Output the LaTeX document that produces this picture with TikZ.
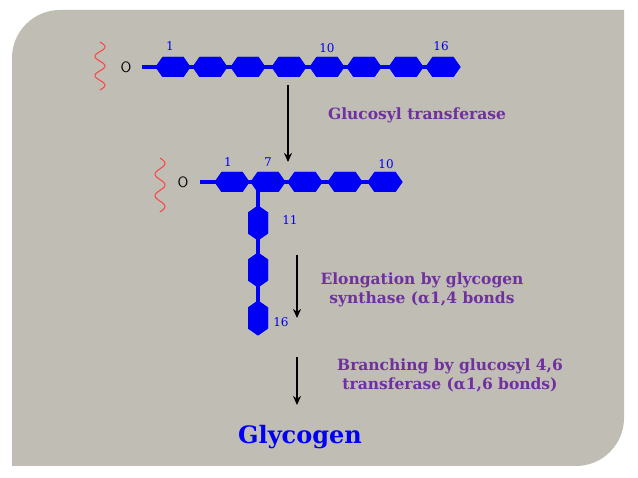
\documentclass[tikz,border=0pt]{standalone}
\usepackage{fontspec}
\setmainfont{DejaVu Serif}
\usetikzlibrary{shapes.symbols,arrows.meta}
\definecolor{bg}{RGB}{191,189,180}
\definecolor{pur}{RGB}{112,48,160}
\definecolor{bl}{RGB}{0,0,245}
\begin{document}
\begin{tikzpicture}[x=1pt,y=-1pt,
 hexh/.style={signal,signal to=east and west,fill=bl,draw=none,minimum width=35pt,minimum height=20pt,inner sep=0pt,signal pointer angle=110},
 hexv/.style={hexh,rotate=90},
 bond/.style={bl,line width=3.5pt},
 num/.style={text=bl,font=\fontsize{12}{12}\selectfont},
 lab/.style={text=pur,font=\bfseries\fontsize{15.5}{19}\selectfont,align=center},
 arr/.style={-{Stealth[length=9pt,width=8pt]},line width=2pt,black},
 squig/.style={red!75!white,line width=1pt}]
\useasboundingbox (0,0) rectangle (638,478);
\fill[white] (0,0) rectangle (638,478);
\fill[bg] (12,58) .. controls (12,31.5) and (33.5,10) .. (60,10) -- (624,10) -- (624,418) .. controls (624,444.5) and (602.5,466) .. (576,466) -- (12,466) -- cycle;
% top chain
\draw[squig] plot[domain=0:48,samples=80,smooth] ({100+5*sin(\x*18.75)},{42+\x});
\node[font=\sffamily\fontsize{15}{15}\selectfont] (o1) at (126,67) {O};
\coordinate (s1) at (142,67);
\foreach \i/\x in {1/173,2/210,3/248,4/289,5/327,6/364,7/406,8/443}{\node[hexh] (a\i) at (\x,67) {};}
\draw[bond] (s1) -- (a1.center);
\foreach \i [evaluate=\i as \j using int(\i+1)] in {1,...,7}{\draw[bond] (a\i.center) -- (a\j.center);}
\foreach \i in {1,...,8}{\node[hexh] at (a\i) {};}
\node[num] (n1) at (170,46) {1};
\node[num] (n10) at (327,48) {10};
\node[num] (n16) at (441,46) {16};
\coordinate (t1) at (288,85); \coordinate (t2) at (288,162);
\draw[arr] (t1) -- (t2);
\node[lab] (g1) at (417,115) {Glucosyl transferase};
% second chain
\draw[squig] plot[domain=0:54,samples=80,smooth] ({160+5*sin(\x*16.7)},{158+\x});
\node[font=\sffamily\fontsize{15}{15}\selectfont] (o2) at (183,182) {O};
\coordinate (s2) at (200,182);
\foreach \i/\x in {1/232,2/268,3/305,4/345,5/385}{\node[hexh] (b\i) at (\x,182) {};}
\foreach \i/\y in {1/223,2/270,3/318}{\node[hexv] (c\i) at (258,\y) {};}
\draw[bond] (s2) -- (b1.center);
\foreach \i [evaluate=\i as \j using int(\i+1)] in {1,...,4}{\draw[bond] (b\i.center) -- (b\j.center);}
\draw[bond] (258,182) -- (c1.center);
\draw[bond] (c1.center) -- (c2.center); \draw[bond] (c2.center) -- (c3.center);
\foreach \i in {1,...,5}{\node[hexh] at (b\i) {};}
\foreach \i in {1,...,3}{\node[hexv] at (c\i) {};}
\node[num] (m1) at (228,162) {1};
\node[num] (m7) at (268,162) {7};
\node[num] (m10) at (386,164) {10};
\node[num] (m11) at (290,220) {11};
\node[num] (m16) at (281,322) {16};
\coordinate (u1) at (297,255); \coordinate (u2) at (297,318);
\draw[arr] (u1) -- (u2);
\node[lab] (e1) at (422,290) {Elongation by glycogen\\synthase (α1,4 bonds};
\coordinate (v1) at (297,357); \coordinate (v2) at (297,405);
\draw[arr] (v1) -- (v2);
\node[lab] (br) at (450,375) {Branching by glucosyl 4,6\\transferase (α1,6 bonds)};
\node[text=bl,font=\bfseries\fontsize{24}{24}\selectfont] (gly) at (300,437) {Glycogen};
\end{tikzpicture}
\end{document}
